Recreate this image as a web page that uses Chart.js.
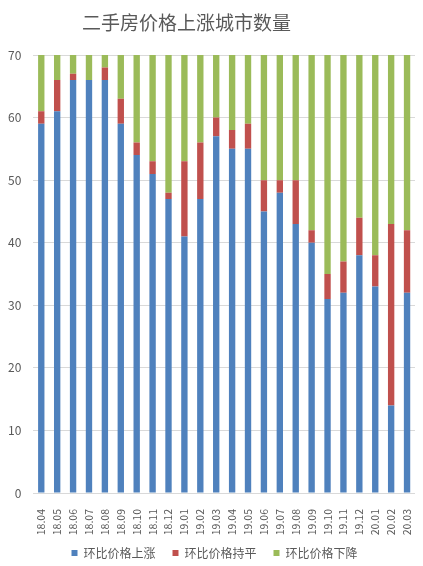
<!DOCTYPE html>
<html>
<head>
<meta charset="utf-8">
<script src="https://cdn.jsdelivr.net/npm/chart.js@4.4.1/dist/chart.umd.min.js"></script>
<style>
  html, body { margin: 0; padding: 0; background: #ffffff; overflow: hidden; }
  #wrap { position: relative; width: 423px; height: 566px; }
  #title { position: absolute; left: 82px; top: 8px; font-family: "Noto Sans CJK SC", sans-serif; font-size: 19px; color: #595959; white-space: nowrap; }
  canvas { position: absolute; left: 0; top: 0; }
</style>
</head>
<body>
<div id="wrap">
  <canvas id="c" width="423" height="566"></canvas>
  <div id="title">二手房价格上涨城市数量</div>
</div>
<script>
const categories = ["18.04","18.05","18.06","18.07","18.08","18.09","18.10","18.11","18.12","19.01","19.02","19.03","19.04","19.05","19.06","19.07","19.08","19.09","19.10","19.11","19.12","20.01","20.02","20.03"];
const seriesNames = ["环比价格上涨","环比价格持平","环比价格下降"];
const rising = [59,61,66,66,66,59,54,51,47,41,47,57,55,55,45,48,43,40,31,32,38,33,14,32];
const flat   = [2,5,1,0,2,4,2,2,1,12,9,3,3,4,5,2,7,2,4,5,6,5,29,10];
const falling= [9,4,3,4,2,7,14,17,22,17,14,10,12,11,20,20,20,28,35,33,26,32,27,28];
const yTicks = [0,10,20,30,40,50,60,70];

const colors = ["#4F81BD","#C0504D","#9BBB59"];
const font = "'Noto Sans CJK SC', sans-serif";

const legendShift = {
  id: 'legendShift',
  afterLayout(chart) {
    const lg = chart.legend;
    if (lg) { lg.left += 9; lg.right += 9; lg.top -= 7; lg.bottom -= 7; }
  }
};

new Chart(document.getElementById('c'), {
  type: 'bar',
  data: {
    labels: categories,
    datasets: [
      { label: seriesNames[0], data: rising, backgroundColor: colors[0] },
      { label: seriesNames[1], data: flat, backgroundColor: colors[1] },
      { label: seriesNames[2], data: falling, backgroundColor: colors[2] }
    ]
  },
  plugins: [legendShift],
  options: {
    responsive: false,
    animation: false,
    layout: { padding: { top: 55, left: -4, right: 8, bottom: -10 } },
    datasets: { bar: { categoryPercentage: 1.0, barPercentage: 0.4 } },
    plugins: {
      legend: {
        position: 'bottom',
        labels: { boxWidth: 6, boxHeight: 6, color: '#595959', font: { family: font, size: 12 }, padding: 17 }
      },
      tooltip: { enabled: false }
    },
    scales: {
      x: {
        stacked: true,
        grid: { display: false },
        border: { display: false },
        ticks: { color: '#595959', font: { family: font, size: 10.5 }, maxRotation: 90, minRotation: 90, autoSkip: false, padding: 8 },
        afterFit: (scale) => { scale.height = 44; scale.paddingLeft = 0; scale.paddingRight = 0; }
      },
      y: {
        stacked: true,
        min: 0, max: 70,
        afterBuildTicks: (axis) => { axis.ticks = yTicks.map(v => ({ value: v })); },
        grid: { color: '#d9d9d9', drawTicks: false },
        border: { display: false },
        ticks: { color: '#595959', font: { family: font, size: 12 }, padding: 12 }
      }
    }
  }
});
</script>
</body>
</html>
